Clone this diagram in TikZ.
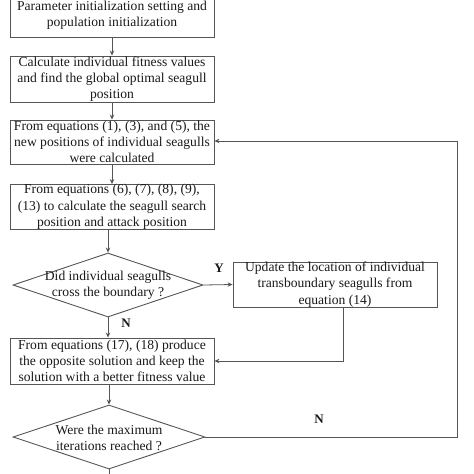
\documentclass[tikz,border=0pt]{standalone}
\usepackage{fontspec}
\setmainfont{Liberation Serif}
\usetikzlibrary{shapes.geometric,arrows.meta}
\definecolor{ln}{HTML}{555555}
\definecolor{tx}{HTML}{1A1A1A}
\tikzset{
  procbox/.style={draw=ln, line width=0.9pt, rectangle, minimum width=204pt, inner sep=0pt, align=center, text=tx, font=\fontsize{13.6}{16.3}\selectfont},
  decbox/.style={draw=ln, line width=0.9pt, diamond, inner sep=0pt},
  dectext/.style={align=center, text=tx, font=\fontsize{13.6}{16.3}\selectfont},
  arr/.style={draw=ln, line width=0.8pt, -{Stealth[length=5pt,width=4.5pt]}},
  lbl/.style={text=tx, font=\fontsize{13}{15}\selectfont\bfseries},
}
\begin{document}
\begin{tikzpicture}[x=1pt,y=-1pt]
\useasboundingbox[fill=white] (0,0) rectangle (474,474);
\node[procbox, minimum height=44pt] (b1) at (112,15) {Parameter initialization setting and\\population initialization};
\node[procbox, minimum height=46pt] (b2) at (112,79) {Calculate individual fitness values\\and find the global optimal seagull\\position};
\node[procbox, minimum height=44pt] (b3) at (112,142) {From equations (1), (3), and (5), the\\new positions of individual seagulls\\were calculated};
\node[procbox, minimum height=44pt] (b4) at (112,207) {From equations (6), (7), (8), (9),\\(13) to calculate the seagull search\\position and attack position};
\node[decbox, minimum width=190pt, minimum height=64pt] (d1) at (108,285) {};
\node[dectext] (d1t) at (108,285) {Did individual seagulls\\cross the boundary ?};
\node[procbox, minimum height=45pt] (up) at (335,284.5) {Update the location of individual\\transboundary seagulls from\\equation (14)};
\node[procbox, minimum height=46pt] (b5) at (112,361) {From equations (17), (18) produce\\the opposite solution and keep the\\solution with a better fitness value};
\node[decbox, minimum width=192pt, minimum height=64pt] (d2) at (109,437) {};
\node[dectext] (d2t) at (109,438) {Were the maximum\\iterations reached ?};
\coordinate (loop) at (457,141);
\coordinate (fin) at (109,480);
\draw[arr] (b1.south) -- (b2.north);
\draw[arr] (b2.south) -- (b3.north);
\draw[arr] (b3.south) -- (b4.north);
\draw[arr] (b4.south -| d1.north) -- (d1.north);
\draw[arr] (d1.east) -- (up.west);
\draw[arr] (d1.south) -- (b5.north -| d1.south);
\draw[arr] ([xshift=8pt]up.south) |- (b5.east);
\draw[arr] (b5.south -| d2.north) -- (d2.north);
\draw[arr] (d2.east) -| (loop) -- (b3.east |- loop);
\draw[arr] (d2.south) -- (fin);
\node[lbl] (ly) at (219,268) {Y};
\node[lbl] (ln1) at (126,323) {N};
\node[lbl] (ln2) at (319,419) {N};
\end{tikzpicture}
\end{document}
